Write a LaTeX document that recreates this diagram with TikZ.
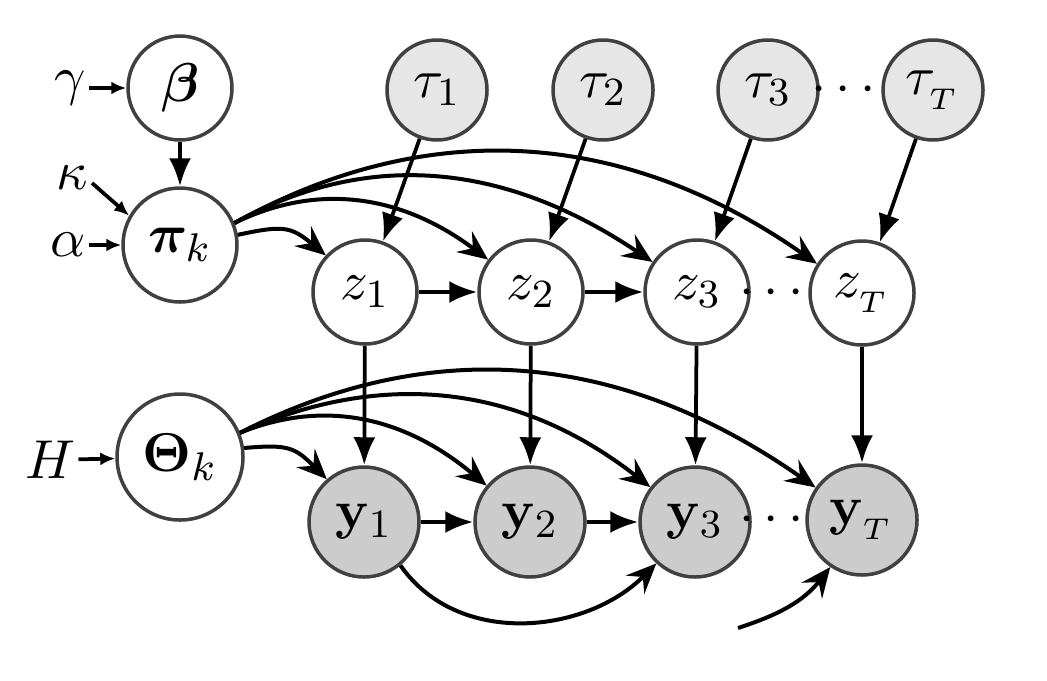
\documentclass[tikz,border=0pt]{standalone}
\usepackage{amsmath,bm}
\usetikzlibrary{arrows.meta}
\definecolor{bord}{HTML}{404040}
\definecolor{taufill}{HTML}{E6E6E6}
\definecolor{yfill}{HTML}{CCCCCC}
\begin{document}
\begin{tikzpicture}[x=0.2pt,y=-0.2pt,
  font=\fontsize{11.3}{13}\selectfont,
  var/.style={circle,draw=bord,line width=0.7pt,fill=white,inner sep=0pt},
  obs/.style={var,fill=yfill},
  tauv/.style={var,fill=taufill},
  lbl/.style={inner sep=0.5pt},
  sarr/.style={line width=0.75pt,-{Latex[length=5.6pt,width=4.4pt]}},
  harr/.style={line width=0.75pt,-{Latex[length=3pt,width=2.6pt]}},
  carr/.style={line width=0.8pt,-{Stealth[length=6pt,width=5.2pt,inset=2.2pt]}},
  dotsn/.style={inner sep=0pt}
]
\useasboundingbox (0,0) rectangle (1047,680);

% top-left hyperparameters
\node[var,minimum size=20.8pt] (beta) at (180,88) {$\bm{\beta}$};
\node[var,minimum size=22.8pt] (pi) at (180,245) {$\bm{\pi}_k$};
\node[var,minimum size=25.2pt] (theta) at (180,457) {$\bm{\Theta}_k$};
\node[lbl] (gamma) at (70,88) {$\gamma$};
\node[lbl] (kappa) at (72,178) {$\kappa$};
\node[lbl] (alpha) at (68,245) {$\alpha$};
\node[lbl] (H) at (50,460) {$H$};
\coordinate (kstart) at (92,183);

% tau nodes
\node[tauv,minimum size=20pt] (t1) at (437,90) {$\tau_1$};
\node[tauv,minimum size=20pt] (t2) at (603,90) {$\tau_2$};
\node[tauv,minimum size=20pt] (t3) at (768,90) {$\tau_3$};
\node[tauv,minimum size=20pt] (tT) at (933,90) {$\tau_{_T}$};

% z nodes
\node[var,minimum size=20.8pt] (z1) at (365,292) {$z_1$};
\node[var,minimum size=20.8pt] (z2) at (531,292) {$z_2$};
\node[var,minimum size=20.8pt] (z3) at (697,292) {$z_3$};
\node[var,minimum size=20.8pt] (zT) at (862,293) {$z_{_T}$};

% y nodes
\node[obs,minimum size=22pt] (y1) at (364,522) {$\mathbf{y}_1$};
\node[obs,minimum size=22pt] (y2) at (530,522) {$\mathbf{y}_2$};
\node[obs,minimum size=22pt] (y3) at (695,522) {$\mathbf{y}_3$};
\node[obs,minimum size=22pt] (yT) at (862,520) {$\mathbf{y}_{_T}$};

% dots
\node[dotsn] (d1) at (848,90) {$\cdots$};
\node[dotsn] (d2) at (776,293) {$\cdots$};
\node[dotsn] (d3) at (776,520) {$\cdots$};

% hyperparameter arrows
\draw[harr] (gamma) -- (beta);
\draw[harr] (kstart) -- (pi.150);
\draw[harr] (alpha) -- (pi);
\draw[harr] (H) -- (theta);
\draw[sarr] (beta) -- (pi);

% tau -> z
\draw[sarr] (t1) -- (z1);
\draw[sarr] (t2) -- (z2);
\draw[sarr] (t3) -- (z3);
\draw[sarr] (tT) -- (zT);

% z chain
\draw[sarr] (z1) -- (z2);
\draw[sarr] (z2) -- (z3);

% z -> y
\draw[sarr] (z1) -- (y1);
\draw[sarr] (z2) -- (y2);
\draw[sarr] (z3) -- (y3);
\draw[sarr] (zT) -- (yT);

% y chain
\draw[sarr] (y1) -- (y2);
\draw[sarr] (y2) -- (y3);

% pi -> z curves
\draw[carr] (pi.10) to[out=12,in=140,looseness=1.3] (z1.137);
\draw[carr] (pi.22) to[out=26,in=143] (z2.143);
\draw[carr] (pi.22) to[out=29,in=146] (z3.146);
\draw[carr] (pi.22) to[out=29,in=145] (zT.147);

% theta -> y curves
\draw[carr] (theta.8) to[out=5,in=135,looseness=1.3] (y1.131);
\draw[carr] (theta.22) to[out=22,in=140] (y2.140);
\draw[carr] (theta.22) to[out=24,in=142] (y3.142);
\draw[carr] (theta.22) to[out=27,in=145] (yT.145);

% y1 -> y3 curve and dangling arrow into yT
\draw[carr] (y1.-50) to[out=-55,in=-135] (y3.-133);
\coordinate (dang) at (738,628);
\draw[carr] (dang) to[out=18,in=232] (yT.-124);
\end{tikzpicture}
\end{document}
